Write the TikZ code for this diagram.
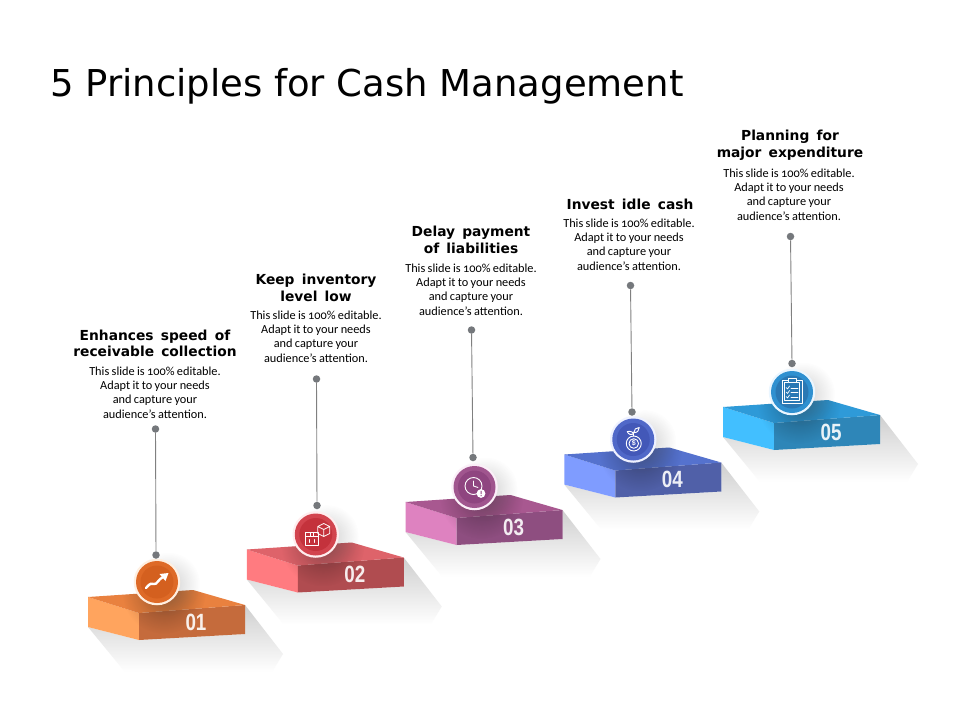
\documentclass[tikz,border=0pt]{standalone}
\usepackage{fontspec}
\usetikzlibrary{fadings,arrows.meta}
\setmainfont{DejaVu Sans}
\newfontfamily\headfont[WordSpace=1.5]{DejaVu Sans Bold}
\newfontfamily\bodyfont[Numbers=OldStyle,WordSpace=.85]{Carlito}
\newfontfamily\numfont{Liberation Sans}
\definecolor{lineg}{HTML}{808080}
\definecolor{pin}{HTML}{75787C}
\definecolor{ol}{HTML}{FFA45E}\definecolor{or}{HTML}{C56B3C}\definecolor{ot}{HTML}{E9813F}\definecolor{od}{HTML}{DE6A27}\definecolor{oi}{HTML}{D4601F}\definecolor{ob}{HTML}{FFEFE0}
\definecolor{rl}{HTML}{FF7B80}\definecolor{rr}{HTML}{B04C50}\definecolor{rt}{HTML}{DE636A}\definecolor{rd}{HTML}{D2444E}\definecolor{ri}{HTML}{C4323C}\definecolor{rb}{HTML}{FFEDEE}
\definecolor{pl}{HTML}{DE82C0}\definecolor{pr}{HTML}{8E4E80}\definecolor{pt}{HTML}{A85890}\definecolor{pd}{HTML}{A0558E}\definecolor{pi}{HTML}{8F4580}\definecolor{pb}{HTML}{FBEFF8}
\definecolor{bl}{HTML}{7F9CFF}\definecolor{br}{HTML}{5060A8}\definecolor{bt}{HTML}{5572CE}\definecolor{bd}{HTML}{5068C8}\definecolor{bi}{HTML}{4358B8}\definecolor{bb}{HTML}{EEF1FF}
\definecolor{cl}{HTML}{42BFFF}\definecolor{cr}{HTML}{2E86B8}\definecolor{ct}{HTML}{2E9AD8}\definecolor{cd}{HTML}{2F90D0}\definecolor{ci}{HTML}{2A78B4}\definecolor{cb}{HTML}{EAF6FF}
\tikzset{
  headtext/.style={align=center,font=\headfont\fontsize{13.8}{16.6}\selectfont,inner sep=0pt},
  bodytext/.style={align=center,font=\bodyfont\fontsize{12.3}{14.4}\selectfont,inner sep=0pt},
  numtext/.style={font=\numfont\fontsize{23.5}{24}\selectfont\bfseries,text=white,inner sep=0pt,xscale=.8,opacity=.9},
  pindot/.style={circle,fill=pin,minimum size=7.5pt,inner sep=0pt},
  pinline/.style={draw=lineg,line width=.9pt},
  icon/.style={draw=white,line width=.9pt,line join=round,line cap=round},
}
\newcommand{\blockitem}[9]{%
 % #1 dx, #2 dy, #3 left, #4 right, #5 top, #6 disc, #7 inner, #8 ring, #9 number
 \begin{scope}[shift={(#1,#2)}]
  \path[fill=#3] (88,597) -- (139,613) -- (139,640) -- (88,627) -- cycle;
  \path[fill=#4] (139,613) -- (245,605) -- (245,634) -- (139,640) -- cycle;
  \path[fill=#5] (88,597) -- (193,590) -- (245,605) -- (139,613) -- cycle;
  \begin{scope}
   \clip (88,597) -- (193,590) -- (245,605) -- (245,634) -- (139,640) -- (88,627) -- cycle;
   \fill[black,opacity=.32,path fading=softdisc] (164,592) circle (42);
  \end{scope}
  \fill[black!60,opacity=.3,path fading=softdisc] (168,584) circle (32);
  \node[numtext] (num#9) at (196,622) {0#9};
  \node[circle,fill=#8,minimum size=46.5pt,inner sep=0pt] (ring#9) at (157,582) {};
  \node[circle,fill=#6,minimum size=42pt,inner sep=0pt] (disc#9) at (157,582) {};
  \node[circle,fill=#7,minimum size=33pt,inner sep=0pt] (core#9) at (157,582) {};
 \end{scope}}
\newcommand{\floorshade}[2]{%
 \begin{scope}[shift={(#1,#2)}]
  \shade[top color=black!19,bottom color=white]
   (88,627) -- (139,640) -- (245,634) -- (245,605) -- (283,654) -- (272,672) -- (125,672) -- cycle;
 \end{scope}}
\tikzfading[name=softdisc,inner color=transparent!0,outer color=transparent!100]
\begin{document}
\begin{tikzpicture}[x=1pt,y=-1pt]
\useasboundingbox (0,0) rectangle (960,720);
\fill[white] (0,0) rectangle (960,720);
\node[anchor=base west,inner sep=0pt,font=\fontsize{37}{40}\selectfont] (title) at (50,96) {5 Principles for Cash Management};
% floor shadows
\floorshade{0}{0}
\floorshade{158.75}{-47.5}
\floorshade{317.5}{-95}
\floorshade{476.25}{-142.5}
\floorshade{635}{-190}
% blocks
\blockitem{0}{0}{ol}{or}{ot}{od}{oi}{ob}{1}
\blockitem{158.75}{-47.5}{rl}{rr}{rt}{rd}{ri}{rb}{2}
\blockitem{317.5}{-95}{pl}{pr}{pt}{pd}{pi}{pb}{3}
\blockitem{476.25}{-142.5}{bl}{br}{bt}{bd}{bi}{bb}{4}
\blockitem{635}{-190}{cl}{cr}{ct}{cd}{ci}{cb}{5}
% pins
\node[pindot] (topa) at (155.5,429) {};
\node[pindot] (bota) at (156,555) {};
\node[pindot] (topb) at (316.5,379) {};
\node[pindot] (botb) at (317,505.5) {};
\node[pindot] (topc) at (471.5,330) {};
\node[pindot] (botc) at (473,457.5) {};
\node[pindot] (topd) at (630.5,285.5) {};
\node[pindot] (botd) at (632,412) {};
\node[pindot] (tope) at (790.5,236.5) {};
\node[pindot] (bote) at (792,363.5) {};
\draw[pinline] (topa) -- (bota);
\draw[pinline] (topb) -- (botb);
\draw[pinline] (topc) -- (botc);
\draw[pinline] (topd) -- (botd);
\draw[pinline] (tope) -- (bote);
% headings
\node[headtext] (heada) at (155,343.5) {Enhances speed of\\receivable collection};
\node[headtext] (headb) at (316,288) {Keep inventory\\level low};
\node[headtext] (headc) at (471,240) {Delay payment\\of liabilities};
\node[headtext] (headd) at (630,204) {Invest idle cash};
\node[headtext] (heade) at (790,145.5) {Planning for\\major expenditure};
% body
\node[bodytext] (bodya) at (155,392.5) {This slide is 100\% editable.\\Adapt it to your needs\\and capture your\\audience’s attention.};
\node[bodytext] (bodyb) at (316,336.5) {This slide is 100\% editable.\\Adapt it to your needs\\and capture your\\audience’s attention.};
\node[bodytext] (bodyc) at (471,289.5) {This slide is 100\% editable.\\Adapt it to your needs\\and capture your\\audience’s attention.};
\node[bodytext] (bodyd) at (629,244.5) {This slide is 100\% editable.\\Adapt it to your needs\\and capture your\\audience’s attention.};
\node[bodytext] (bodye) at (789,194.5) {This slide is 100\% editable.\\Adapt it to your needs\\and capture your\\audience’s attention.};
% icon 1: rising arrow
\begin{scope}[shift={(core1.center)}]
 \draw[icon,line width=2.4pt] (-11,6) .. controls (-7,1) and (-5,1) .. (-3,2) .. controls (0,3) and (1,-3) .. (7,-5.5);
 \fill[white] (11.5,-9) -- (2.5,-8) -- (8.5,-1) -- cycle;
\end{scope}
% icon 2: boxes
\begin{scope}[shift={(core2.center)}]
 \draw[icon,line width=.7pt] (-10,-2) rectangle (3,11);
 \draw[icon,line width=.7pt] (-10,1.5) -- (3,1.5) (-5,-2) -- (-5,1.5) (-2,-2) -- (-2,1.5);
 \draw[icon,line width=.7pt] (-6.5,8) -- (-6.5,5) (-1,8) -- (-1,5);
 \draw[icon,line width=.7pt] (2,-8) -- (8,-11) -- (14,-8) -- (8,-5) -- cycle (2,-8) -- (2,-1) -- (8,2) -- (14,-1) -- (14,-8) (8,-5) -- (8,2);
\end{scope}
% icon 3: clock
\begin{scope}[shift={(core3.center)}]
 \draw[icon] (-1,-1) circle (8.5);
 \draw[icon] (-1,-6) -- (-1,-1) -- (3.5,0.5);
 \fill[white] (6.5,6.5) circle (4.4);
 \fill[pi] (6,3.8) rectangle (7.1,7.2) (6,8) rectangle (7.1,9.2);
\end{scope}
% icon 4: coin with leaves
\begin{scope}[shift={(core4.center)}]
 \draw[icon] (0.5,4) circle (7.5);
 \draw[icon] (0.5,4) circle (4.8);
 \node[inner sep=0pt,text=white,font=\numfont\fontsize{7}{7}\selectfont\bfseries] (coin) at (0.5,4) {\$};
 \draw[icon] (0.5,-3.5) -- (0.5,-7);
 \draw[icon] (0.5,-6) .. controls (-2,-9) and (-5,-8) .. (-6,-8) .. controls (-5,-5) and (-2,-4) .. (0.5,-6);
 \draw[icon] (0.5,-7) .. controls (0.5,-10) and (3,-12) .. (6,-12) .. controls (6,-9) and (4,-6.5) .. (0.5,-7);
\end{scope}
% icon 5: clipboard
\begin{scope}[shift={(core5.center)}]
 \draw[icon,fill=ci] (-10,-12) rectangle (10,11);
 \draw[icon,line width=.6pt] (-7.5,-9.5) rectangle (7.5,8.5);
 \draw[icon,fill=ci] (-4,-14) rectangle (4,-9.5);
 \draw[icon,line width=.7pt] (-6,-4.5) -- (-4.5,-3) -- (-2.5,-6) (-6,0) -- (-4.5,1.5) -- (-2.5,-1.5) (-6,4.5) -- (-4.5,6) -- (-2.5,3);
 \draw[icon,line width=.7pt] (-1,-4) -- (6,-4) (-1,0.5) -- (6,0.5) (-1,5) -- (6,5);
\end{scope}
\end{tikzpicture}
\end{document}
